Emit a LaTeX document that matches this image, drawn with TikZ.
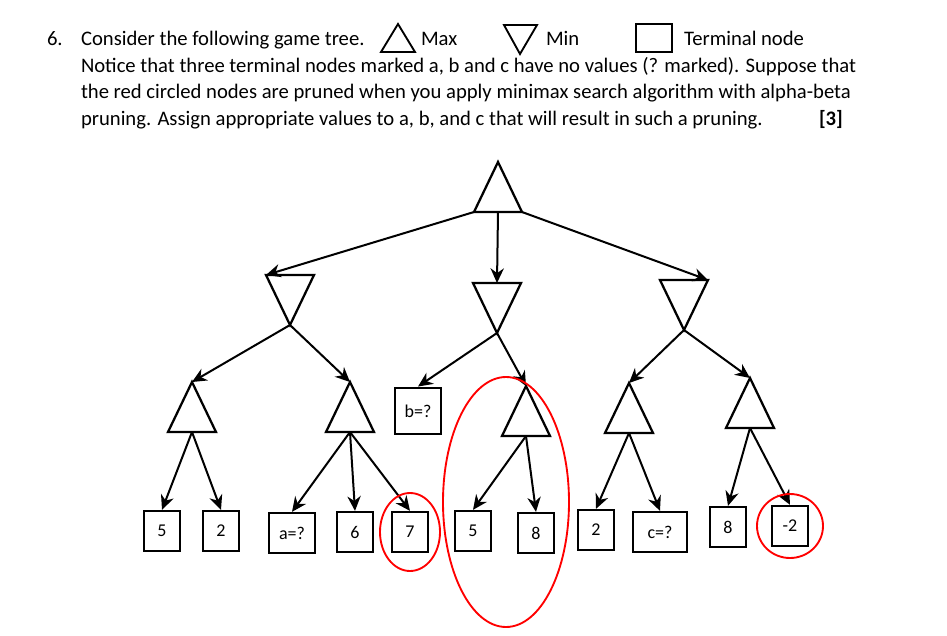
\documentclass[tikz,border=0pt]{standalone}
\usepackage{fontspec}
\setmainfont{Carlito}
\usetikzlibrary{arrows.meta}
\begin{document}
\begin{tikzpicture}[x=0.75pt,y=-0.75pt,
  line width=1.5pt,
  tri/.style={draw,line width=1.7pt,fill=white,line join=miter},
  term/.style={draw,line width=1.7pt,minimum width=27pt,minimum height=30pt,inner sep=0pt,font=\fontsize{13.5}{16}\selectfont},
  arr/.style={-{Stealth[length=11pt,width=10pt]},line width=1.5pt},
  txt/.style={anchor=base west,inner sep=0pt,font=\fontsize{15.5}{18}\selectfont},
  cut/.style={draw=red,line width=1.4pt}]
\useasboundingbox (0,0) rectangle (947,636);
\newcommand{\mxT}[3]{\coordinate (#1-t) at (#2,#3); \coordinate (#1-b) at (#2,#3+50);
  \coordinate (#1-l) at (#2-24,#3+50); \coordinate (#1-r) at (#2+24,#3+50);
  \draw[tri] (#1-t)--(#1-l)--(#1-r)--cycle;}
\newcommand{\mnT}[3]{\coordinate (#1-t) at (#2,#3); \coordinate (#1-b) at (#2,#3+50);
  \coordinate (#1-l) at (#2-24,#3); \coordinate (#1-r) at (#2+24,#3);
  \draw[tri] (#1-l)--(#1-r)--(#1-b)--cycle;}
% header
\node[txt] (n6) at (46,45) {6.};
\node[txt] (l1) at (80,45) {Consider the following game tree.};
\draw[line width=1.4pt] (381,52)--(398,24)--(415,52)--cycle;
\node[txt] (lmax) at (420,45) {Max};
\draw[line width=1.4pt] (504,25)--(537,25)--(520,54)--cycle;
\node[txt] (lmin) at (545,45) {Min};
\node[draw,line width=1.4pt,minimum width=27pt,minimum height=21pt,inner sep=0pt] (lterm) at (654,38) {};
\node[txt] (lt) at (683,45) {Terminal node};
\node[txt] (l2) at (80,72) {Notice that three terminal nodes marked a, b and c have no values (? marked). Suppose that};
\node[txt] (l3) at (80,98) {the red circled nodes are pruned when you apply minimax search algorithm with alpha-beta};
\node[txt] (l4) at (80,125) {pruning. Assign appropriate values to a, b, and c that will result in such a pruning.};
\node[txt,font=\fontsize{15.5}{18}\selectfont\bfseries] (l5) at (818,125) {[3]};
% tree
\mxT{R}{498}{162}
\mnT{A}{290}{275}
\mnT{B}{497}{283}
\mnT{C}{684}{280}
\mxT{A1}{192}{382}
\mxT{A2}{350}{382}
\mxT{B2}{526}{386}
\mxT{C1}{629}{383}
\mxT{C2}{750}{378}
\node[term,minimum width=34pt,minimum height=35pt] (bq) at (418,411) {b=?};
\foreach \n/\x/\y/\t/\w in {t1/162/531/5/27,t2/221/531/2/27,t3/292/533/a=?/34,t4/355/532/6/27,t5/410/532/7/27,t6/473/531/5/27,t7/536/533/8/27,t8/596/530/2/27,t9/660/532/c=?/41,t10/728/527/8/27,t11/790/526/-2/27}
  \node[term,minimum width=\w pt] (\n) at (\x,\y) {\t};
% edges
\draw[arr] (R-l) -- (A-l);
\draw[arr] (R-b) -- (B-t);
\draw[arr] (R-r) -- (C-r);
\draw[arr] (A-b) -- (A1-t);
\draw[arr] (A-b) -- (A2-t);
\draw[arr] (B-b) -- (bq.north);
\draw[arr] (B-b) -- (B2-t);
\draw[arr] (C-b) -- (C1-t);
\draw[arr] (C-b) -- (C2-t);
\draw[arr] (A1-b) -- (t1.north);
\draw[arr] (A1-b) -- (t2.north);
\draw[arr] (A2-b) -- (t3.north);
\draw[arr] (A2-b) -- (t4.north);
\draw[arr] (A2-b) -- (t5.north);
\draw[arr] (B2-b) -- (t6.north);
\draw[arr] (B2-b) -- (t7.north);
\draw[arr] (C1-b) -- (t8.north);
\draw[arr] (C1-b) -- (t9.north);
\draw[arr] (C2-b) -- (t10.north);
\draw[arr] (C2-b) -- (t11.north);
% pruned
\draw[cut] (t5) ellipse [x radius=30, y radius=39];
\draw[cut] (506,502) ellipse [x radius=63, y radius=125];
\draw[cut] (t11) ellipse [x radius=33, y radius=32];
\end{tikzpicture}
\end{document}
